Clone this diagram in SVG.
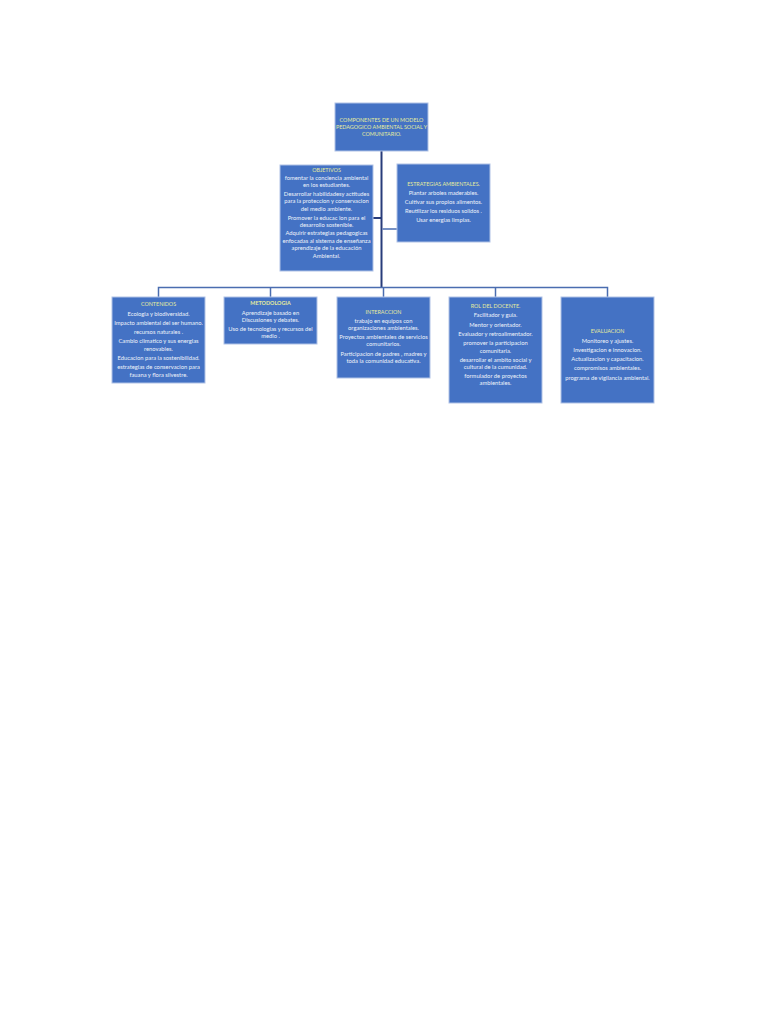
<svg xmlns="http://www.w3.org/2000/svg" width="768" height="1024" viewBox="0 0 768 1024">
<style>
.box{fill:#4472C4;stroke:#AFC2E6;stroke-width:1}
text{font-family:Lato,"Liberation Sans",sans-serif;font-size:5.4px;text-anchor:middle}
.t{fill:#E4EC9C}
.b{fill:#EEF2FA;font-size:5.8px}
.main{stroke:#283C7A;stroke-width:2;fill:none}
.br{stroke:#4A6DB0;stroke-width:1.5;fill:none}
</style>
<rect width="768" height="1024" fill="#FFFFFF"/>
<g id="connectors">
<line class="main" x1="381.5" y1="151" x2="381.5" y2="287"/>
<line class="main" x1="373" y1="218" x2="381.5" y2="218"/>
<line class="br" x1="382.5" y1="229" x2="397" y2="229"/>
<polyline class="br" points="158.5,297 158.5,287.5 607.5,287.5 607.5,297"/>
<line class="br" x1="270.5" y1="287.5" x2="270.5" y2="297"/>
<line class="br" x1="383.5" y1="287.5" x2="383.5" y2="297"/>
<line class="br" x1="495.5" y1="287.5" x2="495.5" y2="297"/>
</g>
<g id="root">
<rect class="box" x="335" y="103" width="93" height="48"/>
<text class="t" x="381.5" y="122">COMPONENTES  DE UN MODELO</text>
<text class="t" x="381.5" y="129">PEDAGOGICO AMBIENTAL SOCIAL Y</text>
<text class="t" x="381.5" y="136">COMUNITARIO.</text>
</g>
<g id="objetivos">
<rect class="box" x="280" y="165" width="93" height="106"/>
<text class="t" x="326.5" y="172">OBJETIVOS</text>
<text class="b" x="326.5" y="180">fomentar la conciencia ambiental</text>
<text class="b" x="326.5" y="187">en los estudiantes.</text>
<text class="b" x="326.5" y="196">Desarrollar habilidadesy actitudes</text>
<text class="b" x="326.5" y="203">para la proteccion y conservacion</text>
<text class="b" x="326.5" y="210.5">del medio ambiente.</text>
<text class="b" x="326.5" y="219.5">Promover la educac ion para el</text>
<text class="b" x="326.5" y="226.5">desarrollo sostenible.</text>
<text class="b" x="326.5" y="235">Adquirir estrategias pedagogicas</text>
<text class="b" x="326.5" y="242.5">enfocadas al sistema de enseñanza</text>
<text class="b" x="326.5" y="250">aprendizaje de la educación</text>
<text class="b" x="326.5" y="257.5">Ambiental.</text>
</g>
<g id="estrategias">
<rect class="box" x="397" y="164" width="93" height="78"/>
<text class="t" x="443.5" y="186">ESTRATEGIAS  AMBIENTALES.</text>
<text class="b" x="443.5" y="195">Plantar  arboles maderables.</text>
<text class="b" x="443.5" y="204">Cultivar sus propios alimentos.</text>
<text class="b" x="443.5" y="213">Reutilizar los residuos solidos .</text>
<text class="b" x="443.5" y="222">Usar energias limpias.</text>
</g>
<g id="contenidos">
<rect class="box" x="112" y="297" width="93" height="86"/>
<text class="t" x="158.5" y="306">CONTENIDOS</text>
<text class="b" x="158.5" y="316">Ecologia y biodiversidad.</text>
<text class="b" x="158.5" y="325">Impacto ambiental del ser humano.</text>
<text class="b" x="158.5" y="334">recursos naturales .</text>
<text class="b" x="158.5" y="343">Cambio climatico y sus energias</text>
<text class="b" x="158.5" y="351">renovables.</text>
<text class="b" x="158.5" y="360">Educacion para la sostenibilidad.</text>
<text class="b" x="158.5" y="369">estrategias de conservacion para</text>
<text class="b" x="158.5" y="377">fauana  y flora silvestre.</text>
</g>
<g id="metodologia">
<rect class="box" x="224" y="297" width="93" height="47"/>
<text class="t" x="270.5" y="305" font-weight="bold">METODOLOGIA</text>
<text class="b" x="270.5" y="315">Aprendizaje basado en</text>
<text class="b" x="270.5" y="322">Discusiones y debates.</text>
<text class="b" x="270.5" y="331">Uso de tecnologias y recursos del</text>
<text class="b" x="270.5" y="338">medio .</text>
</g>
<g id="interaccion">
<rect class="box" x="337" y="297" width="93" height="81"/>
<text class="t" x="383.5" y="314">INTERACCION</text>
<text class="b" x="383.5" y="323">trabajo en equipos con</text>
<text class="b" x="383.5" y="330">organizaciones ambientales.</text>
<text class="b" x="383.5" y="339">Proyectos  ambientales de servicios</text>
<text class="b" x="383.5" y="346">comunitarios.</text>
<text class="b" x="383.5" y="356">Participacion de padres , madres y</text>
<text class="b" x="383.5" y="363">toda la comunidad educativa.</text>
</g>
<g id="rol-docente">
<rect class="box" x="449" y="297" width="93" height="106"/>
<text class="t" x="495.5" y="308">ROL  DEL DOCENTE.</text>
<text class="b" x="495.5" y="317">Facilitador y guia.</text>
<text class="b" x="495.5" y="327">Mentor y orientador.</text>
<text class="b" x="495.5" y="336">Evaluador y retroalimentador.</text>
<text class="b" x="495.5" y="345">promover la participacion</text>
<text class="b" x="495.5" y="353">comunitaria.</text>
<text class="b" x="495.5" y="362">desarrollar el ambito social y</text>
<text class="b" x="495.5" y="369">cultural de  la cumunidad.</text>
<text class="b" x="495.5" y="378">formulador de proyectos</text>
<text class="b" x="495.5" y="385">ambientales.</text>
</g>
<g id="evaluacion">
<rect class="box" x="561" y="297" width="93" height="106"/>
<text class="t" x="607.5" y="333">EVALUACION</text>
<text class="b" x="607.5" y="343">Monitoreo y ajustes.</text>
<text class="b" x="607.5" y="352">Investigacion e innovacion.</text>
<text class="b" x="607.5" y="361">Actualizacion y capacitacion.</text>
<text class="b" x="607.5" y="370">compromisos ambientales.</text>
<text class="b" x="607.5" y="380">programa de vigilancia ambiental.</text>
</g>
</svg>
